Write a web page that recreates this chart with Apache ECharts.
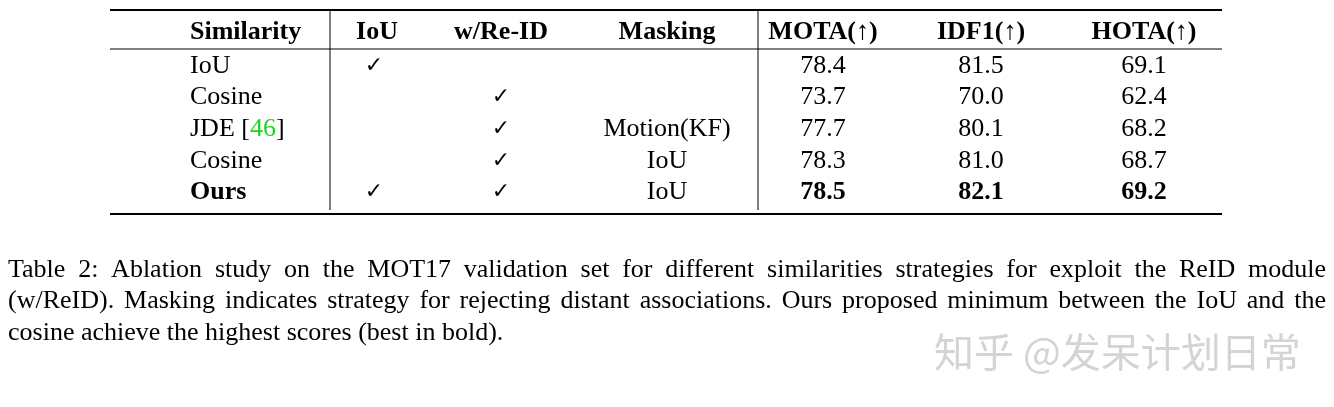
<!DOCTYPE html>
<html>
<head>
<meta charset="utf-8">
<script src="https://cdn.jsdelivr.net/npm/echarts@6/dist/echarts.min.js"></script>
<style>html,body{margin:0;padding:0;background:#fff}#main{width:1334px;height:407px}</style>
</head>
<body>
<div id="main"></div>
<script>
var headers = ['Similarity', 'IoU', 'w/Re-ID', 'Masking', 'MOTA(↑)', 'IDF1(↑)', 'HOTA(↑)'];
var similarity = ['IoU', 'Cosine', 'JDE [46]', 'Cosine', 'Ours'];
var iouCheck = [true, false, false, false, true];
var reidCheck = [false, true, true, true, true];
var masking = ['', '', 'Motion(KF)', 'IoU', 'IoU'];
var mota = ['78.4', '73.7', '77.7', '78.3', '78.5'];
var idf1 = ['81.5', '70.0', '80.1', '81.0', '82.1'];
var hota = ['69.1', '62.4', '68.2', '68.7', '69.2'];
var boldRow = [false, false, false, false, true];
var caption = [
  'Table 2:  Ablation study on the MOT17 validation set for different similarities strategies for exploit the ReID module',
  '(w/ReID). Masking indicates strategy for rejecting distant associations. Ours proposed minimum between the IoU and the',
  'cosine achieve the highest scores (best in bold).'
];

var chart = echarts.init(document.getElementById('main'));
var font = '"Liberation Serif", "Times New Roman", serif';
var fs = '26px ';
var colX = [190, 377, 501, 667, 823, 981, 1144];
var rowY = [66, 97, 129, 161, 192];
var g = [];

function txt(x, y, s, bold, align, extra) {
  var st = {x: x, y: y, text: s, fill: '#000', font: (bold ? 'bold ' : '') + fs + font,
            textAlign: align || 'center', textVerticalAlign: 'middle'};
  if (extra) Object.assign(st, extra);
  g.push({type: 'text', style: st});
}
function line(x1, y1, x2, y2, w) {
  g.push({type: 'line', shape: {x1: x1, y1: y1, x2: x2, y2: y2}, style: {stroke: '#000', lineWidth: w}});
}

line(110, 10, 1222, 10, 2);
line(110, 49, 1222, 49, 1);
line(110, 214, 1222, 214, 2);
line(330, 11, 330, 210, 1);
line(758, 11, 758, 210, 1);

headers.forEach(function (h, i) { txt(colX[i], 32, h, true, i === 0 ? 'left' : 'center'); });

similarity.forEach(function (s, r) {
  var y = rowY[r], b = boldRow[r];
  if (s.indexOf('[') >= 0) {
    var m = s.match(/^(.*\[)(\d+)(\])$/);
    g.push({type: 'text', style: {x: colX[0], y: y, text: '{a|' + m[1] + '}{g|' + m[2] + '}{a|' + m[3] + '}',
      textVerticalAlign: 'middle', font: fs + font,
      rich: {a: {fill: '#000', font: fs + font}, g: {fill: '#1fd21f', font: fs + font}}}});
  } else txt(colX[0], y, s, b, 'left');
  if (iouCheck[r]) txt(colX[1] - 3, y, '✓', false, 'center', {font: '22px "DejaVu Sans"'});
  if (reidCheck[r]) txt(colX[2], y, '✓', false, 'center', {font: '22px "DejaVu Sans"'});
  if (masking[r]) txt(colX[3], y, masking[r], false);
  txt(colX[4], y, mota[r], b);
  txt(colX[5], y, idf1[r], b);
  txt(colX[6], y, hota[r], b);
});

// justified caption: spread words across 8..1326 except last line
var ctx = document.createElement('canvas').getContext('2d');
ctx.font = fs + font;
caption.forEach(function (c, i) {
  var y = 270 + i * 31.5;
  if (i === caption.length - 1) {
    g.push({type: 'text', style: {x: 8, y: y, text: c, fill: '#000', font: fs + font, textVerticalAlign: 'middle'}});
    return;
  }
  var words = c.split(/\s+/);
  var total = words.reduce(function (a, w) { return a + ctx.measureText(w).width; }, 0);
  var gap = (1326 - 8 - total) / (words.length - 1);
  var x = 8;
  words.forEach(function (w) {
    g.push({type: 'text', style: {x: x, y: y, text: w, fill: '#000', font: fs + font, textVerticalAlign: 'middle'}});
    x += ctx.measureText(w).width + gap;
  });
});

g.push({type: 'text', style: {x: 934, y: 352, text: '知乎 @发呆计划日常', fill: '#d4d4d4',
  font: '40px "Noto Sans CJK SC"', textVerticalAlign: 'middle'}});

chart.setOption({animation: false, graphic: g});
</script>
</body>
</html>
